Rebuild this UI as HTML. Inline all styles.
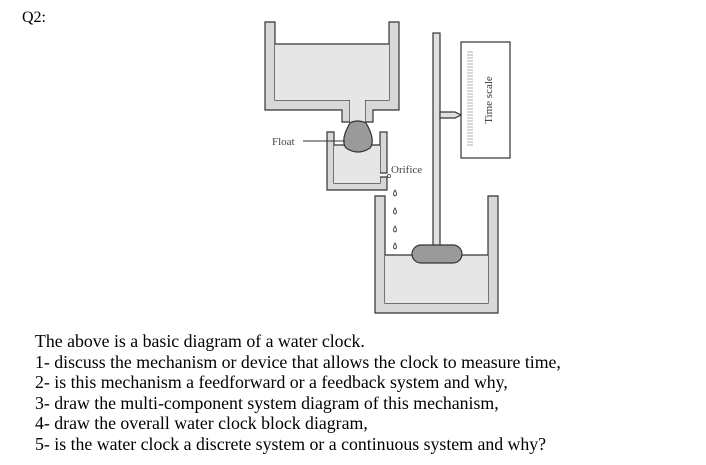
<!DOCTYPE html>
<html><head><meta charset="utf-8"><style>
body{margin:0;background:#fff;width:706px;height:465px;overflow:hidden;position:relative;font-family:"Liberation Serif",serif;}
.t{position:absolute;left:35px;font-size:17.8px;color:#000;white-space:nowrap;}
</style></head><body>
<div class="t" style="left:22px;top:9px;font-size:16px">Q2:</div>
<svg width="706" height="465" style="position:absolute;left:0;top:0">
<g stroke="#333" stroke-width="1.2">
<path d="M265 22 H275 V100 H350 V122 H342 V110 H265 Z" fill="#d8d8d8"/>
<path d="M399 22 H389 V100 H365 V122 H373 V110 H399 Z" fill="#d8d8d8"/>
<rect x="275" y="44" width="114" height="56" fill="#e6e6e6" stroke="none"/>
<line x1="275" y1="44" x2="389" y2="44"/>
<rect x="350" y="100" width="15" height="25" fill="#e6e6e6" stroke="none"/>
<path d="M327 132 H334 V183 H380 V177 H387 V190 H327 Z" fill="#d8d8d8"/>
<rect x="380" y="132" width="7" height="41" fill="#d8d8d8"/>
<rect x="334" y="145" width="46" height="38" fill="#e6e6e6" stroke="none"/>
<line x1="334" y1="145" x2="380" y2="145"/>
<path d="M350 123 Q357 119 366 123 Q376 140 370 148 Q358 156 346 148 Q340 140 350 123 Z" fill="#9a9a9a"/>
<line x1="303" y1="141" x2="345" y2="141" stroke-width="1"/>
<circle cx="389" cy="176" r="1.5" fill="none" stroke-width="0.8"/>
<g fill="#eee" stroke-width="0.8">
<path d="M395 190 q-3 5 0 6 q3 -1 0 -6z"/>
<path d="M395 208 q-3 5 0 6 q3 -1 0 -6z"/>
<path d="M395 226 q-3 5 0 6 q3 -1 0 -6z"/>
<path d="M395 243 q-3 5 0 6 q3 -1 0 -6z"/>
</g>
<path d="M375 196 H385 V303 H488 V196 H498 V313 H375 Z" fill="#d8d8d8"/>
<rect x="385" y="255" width="103" height="48" fill="#e6e6e6" stroke="none"/>
<line x1="385" y1="255" x2="488" y2="255"/>
<rect x="433" y="33" width="7" height="213" fill="#e0e0e0"/>
<path d="M440 112 H455 L461 115 L455 118 H440 Z" fill="#e0e0e0"/>
<rect x="412" y="245" width="50" height="18" rx="9" fill="#9a9a9a"/>
<rect x="461" y="42" width="49" height="116" fill="#fff"/>
</g>
<g stroke="#666" stroke-width="0.6">
<path d="M467 52 H473 M467 55 H473 M467 58 H473 M467 61 H473 M467 64 H473 M467 67 H473 M467 70 H473 M467 73 H473 M467 76 H473 M467 79 H473 M467 82 H473 M467 85 H473 M467 88 H473 M467 91 H473 M467 94 H473 M467 97 H473 M467 100 H473 M467 103 H473 M467 106 H473 M467 109 H473 M467 112 H473 M467 115 H473 M467 118 H473 M467 121 H473 M467 124 H473 M467 127 H473 M467 130 H473 M467 133 H473 M467 136 H473 M467 139 H473 M467 142 H473 M467 145 H473"/>
</g>
<text x="272" y="145" font-family="Liberation Serif" font-size="11" fill="#444">Float</text>
<text x="391" y="173" font-family="Liberation Serif" font-size="11" fill="#444">Orifice</text>
<text transform="translate(492,100) rotate(-90)" text-anchor="middle" font-family="Liberation Serif" font-size="11" fill="#333">Time scale</text>
</svg>
<div class="t" style="top:331px">The above is a basic diagram of a water clock.</div>
<div class="t" style="top:351.6px">1- discuss the mechanism or device that allows the clock to measure time,</div>
<div class="t" style="top:372.2px">2- is this mechanism a feedforward or a feedback system and why,</div>
<div class="t" style="top:392.8px">3- draw the multi-component system diagram of this mechanism,</div>
<div class="t" style="top:413.4px">4- draw the overall water clock block diagram,</div>
<div class="t" style="top:434px">5- is the water clock a discrete system or a continuous system and why?</div>
</body></html>
